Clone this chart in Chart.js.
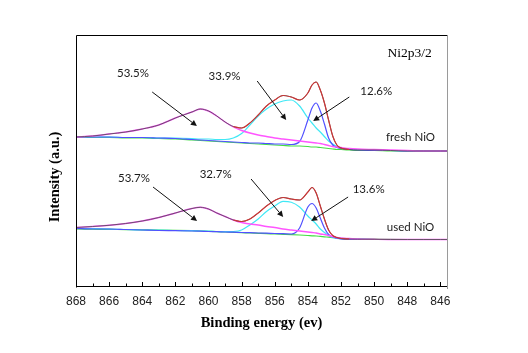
<!DOCTYPE html>
<html>
<head>
<meta charset="utf-8">
<script src="https://cdn.jsdelivr.net/npm/chart.js@4.4.0/dist/chart.umd.min.js"></script>
<style>
  html, body { margin: 0; padding: 0; background: #fff; }
  #wrap { width: 528px; height: 353px; }
</style>
</head>
<body>
<div id="wrap"><canvas id="c"></canvas></div>
<script>
// binding energy grid (eV), shared by every curve
const bindingEnergy = [868, 867, 866, 865, 864, 863, 862, 861, 860.5, 860, 859.5, 859, 858.5, 858, 857.5, 857,
  856.5, 856, 855.5, 855, 854.5, 854, 853.75, 853.5, 853.25, 853, 852.75, 852.5, 852.25, 852, 851.5, 851,
  850, 849, 848, 847, 846, 845.6];

// fresh NiO (upper spectrum), arbitrary intensity
const freshEnvelope = [149, 150, 152, 154, 157, 161, 168, 174, 177, 175, 170, 164, 159.5, 158, 163, 171,
  180, 186, 190.5, 189, 186, 193, 201, 204, 196, 183, 166, 150, 141, 138, 136.5, 136, 136, 135.5, 135, 135, 135, 135];
const freshSatellite = [149, 150, 152, 154, 157, 161, 168, 174, 177, 175, 170, 164, 159, 155.5, 153, 151,
  149.5, 148, 147, 146, 145, 144, 143.5, 143, 142.5, 141.5, 140.5, 139.5, 139, 138.5, 137.5, 137, 136.5, 136, 135.5, 135, 135, 135];
const freshNi3Sat = [149, 149, 149, 148.5, 148.5, 148, 148, 147.5, 147, 147, 146.5, 146.5, 148, 152.5, 161, 170,
  177, 182, 185, 186, 180, 168, 163, 158, 154, 149.5, 145, 142, 139.5, 138, 137, 136.5, 136, 135.5, 135, 135, 135, 135];
const freshNiO = [149, 149, 149, 148.5, 148.5, 148, 147.5, 146.5, 146, 145.5, 145, 144.5, 144, 143.5, 143, 143,
  142.5, 142, 142, 141.5, 144.5, 166, 178, 183, 175, 162, 148, 141, 138.5, 137.5, 136.5, 136, 135.5, 135.5, 135, 135, 135, 135];
const freshBackground = [148.5, 148.5, 148.5, 148, 148, 147.5, 147, 146, 145.5, 145, 144.5, 144, 143.5, 143, 142.5, 142,
  141.5, 141, 140.5, 140, 140, 139.5, 139, 139, 138.5, 138, 137.5, 137, 136.5, 136.5, 136, 135.5, 135.5, 135, 135, 135, 135, 135];

// used NiO (lower spectrum)
const usedEnvelope = [58.5, 59.5, 60.7, 62.5, 65, 68.5, 73, 77.5, 78.7, 77, 73, 69.5, 66, 64.5, 67, 73,
  80, 85.5, 88.5, 87, 86, 94, 98.5, 93, 80, 67, 56, 50.5, 48.5, 47.5, 47, 46.8, 46.7, 46.5, 46.5, 46.5, 46.5, 46.5];
const usedSatellite = [58.5, 59.5, 60.7, 62.5, 65, 68.5, 73, 77.5, 78.7, 77, 73, 69.5, 66, 63.5, 62, 61,
  59.5, 58.5, 57, 56, 55, 54, 53.5, 53, 52, 51.5, 50.5, 49.5, 48.5, 48, 47.5, 47, 46.7, 46.5, 46.5, 46.5, 46.5, 46.5];
const usedNi3Sat = [58, 57.5, 57, 56.5, 56, 56, 55.5, 55.3, 55, 55, 54.5, 54.3, 54.5, 56, 61, 67,
  74.5, 80, 84.7, 83.8, 79, 70, 66, 62, 57, 53.5, 50.5, 48.5, 47.5, 47, 46.8, 46.7, 46.5, 46.5, 46.5, 46.5, 46.5, 46.5];
const usedNiO = [57.5, 57, 57, 56.5, 56, 55.5, 55.3, 55, 54.8, 54.5, 54.3, 54, 53.8, 53.5, 53.3, 53,
  52.8, 52.5, 52.3, 52, 58, 79, 82.5, 78, 68, 58, 51.5, 49, 47.8, 47.2, 46.8, 46.7, 46.5, 46.5, 46.5, 46.5, 46.5, 46.5];
const usedBackground = [57, 56.8, 56.6, 56.4, 56.2, 56, 55.7, 55.3, 55, 54.7, 54.4, 54, 53.7, 53.4, 53, 52.7,
  52.4, 52, 51.7, 51.4, 51, 50.5, 50.2, 50, 49.6, 49.2, 48.8, 48.4, 48, 47.7, 47.2, 47, 46.8, 46.6, 46.5, 46.5, 46.5, 46.5];

const xTicks = [868, 866, 864, 862, 860, 858, 856, 854, 852, 850, 848, 846];

// annotation texts and arrows, in data coordinates
const labels = [
  { text: '53.5%', x: 864.56, y: 213 },
  { text: '33.9%', x: 859.03, y: 210 },
  { text: '12.6%', x: 849.87, y: 195 },
  { text: 'fresh NiO', x: 847.8, y: 149 },
  { text: '53.7%', x: 864.5, y: 108 },
  { text: '32.7%', x: 859.57, y: 112 },
  { text: '13.6%', x: 850.33, y: 97 },
  { text: 'used NiO', x: 847.8, y: 59 }
];
const arrows = [
  [863.4, 194, 860.7, 160],
  [857.06, 205, 855.31, 166],
  [851.5, 189, 853.68, 165],
  [863.35, 99, 860.69, 65],
  [857.43, 107, 855.49, 69],
  [851.57, 89, 853.8, 65]
];

function pts(values, from, to) {
  return bindingEnergy.map((be, i) => ({
    x: be,
    y: (from === undefined || (be <= from && be >= to)) ? values[i] : null
  }));
}

function line(values, color, width, from, to) {
  return {
    data: pts(values, from, to),
    borderColor: color,
    borderWidth: width,
    pointRadius: 0,
    fill: false,
    cubicInterpolationMode: 'monotone',
    spanGaps: false
  };
}

const overlay = {
  id: 'overlay',
  afterDraw(chart) {
    const { ctx, chartArea: a, scales: { x, y } } = chart;
    ctx.save();
    // frame
    ctx.lineWidth = 1;
    ctx.strokeStyle = '#000';
    ctx.beginPath();
    ctx.moveTo(Math.round(a.right) + 0.5, Math.round(a.top) + 0.5);
    ctx.lineTo(Math.round(a.left) + 0.5, Math.round(a.top) + 0.5);
    ctx.lineTo(Math.round(a.left) + 0.5, Math.round(a.bottom) + 1.5);
    ctx.moveTo(Math.round(a.left), Math.round(a.bottom) + 0.5);
    ctx.lineTo(Math.round(a.right) + 1, Math.round(a.bottom) + 0.5);
    ctx.stroke();
    ctx.strokeStyle = '#9a9a9a';
    ctx.beginPath();
    ctx.moveTo(Math.round(a.right) + 0.5, Math.round(a.top) + 0.5);
    ctx.lineTo(Math.round(a.right) + 0.5, Math.round(a.bottom) + 3);
    ctx.stroke();

    // tick marks pointing inward, minor every 1 eV
    ctx.strokeStyle = '#000';
    ctx.beginPath();
    for (let v = 846; v <= 868; v++) {
      const px = Math.round(x.getPixelForValue(v)) + 0.5;
      const len = v % 2 === 0 ? 4 : 2.5;
      ctx.moveTo(px, a.bottom);
      ctx.lineTo(px, a.bottom - len);
    }
    ctx.stroke();

    // arrows
    ctx.strokeStyle = '#111';
    ctx.fillStyle = '#111';
    arrows.forEach(([x1, y1, x2, y2]) => {
      const ax = x.getPixelForValue(x1), ay = y.getPixelForValue(y1);
      const bx = x.getPixelForValue(x2), by = y.getPixelForValue(y2);
      const ang = Math.atan2(by - ay, bx - ax);
      const hl = 6, hw = 3;
      const ex = bx - hl * Math.cos(ang), ey = by - hl * Math.sin(ang);
      ctx.beginPath();
      ctx.moveTo(ax, ay);
      ctx.lineTo(ex, ey);
      ctx.stroke();
      ctx.beginPath();
      ctx.moveTo(bx, by);
      ctx.lineTo(ex + hw * Math.sin(ang), ey - hw * Math.cos(ang));
      ctx.lineTo(ex - hw * Math.sin(ang), ey + hw * Math.cos(ang));
      ctx.closePath();
      ctx.fill();
    });

    // percent and sample labels
    ctx.fillStyle = '#1a1a1a';
    ctx.textAlign = 'center';
    ctx.textBaseline = 'middle';
    ctx.font = '11.5px Lato';
    labels.forEach(l => {
      ctx.fillText(l.text, x.getPixelForValue(l.x), y.getPixelForValue(l.y));
    });

    ctx.font = '13.5px "Liberation Serif"';
    ctx.fillStyle = '#000';
    ctx.fillText('Ni2p3/2', x.getPixelForValue(847.85), y.getPixelForValue(233));

    // axis titles
    ctx.font = 'bold 14.5px "Liberation Serif"';
    ctx.fillText('Binding energy (ev)', (a.left + a.right) / 2, 323);
    ctx.translate(55, 177);
    ctx.rotate(-Math.PI / 2);
    ctx.fillText('Intensity (a.u.)', 0, 0);
    ctx.restore();
  }
};

new Chart(document.getElementById('c'), {
  type: 'line',
  data: {
    datasets: [
      line(freshEnvelope, '#cc3535', 1.2, 858.75, 851.25),
      line(freshEnvelope, 'rgba(80,80,80,0.85)', 1, undefined, undefined),
      line(freshSatellite, '#ff55ff', 1.4),
      line(freshNiO, '#5050ff', 1.2),
      line(freshNi3Sat, '#40e8f5', 1.2),
      line(freshBackground, '#44dd44', 1.2),
      line(usedEnvelope, '#cc3535', 1.2, 858.75, 851.25),
      line(usedEnvelope, 'rgba(80,80,80,0.85)', 1, undefined, undefined),
      line(usedSatellite, '#ff55ff', 1.4),
      line(usedNiO, '#5050ff', 1.2),
      line(usedNi3Sat, '#40e8f5', 1.2),
      line(usedBackground, '#44dd44', 1.2)
    ]
  },
  options: {
    responsive: true,
    maintainAspectRatio: false,
    animation: false,
    events: [],
    layout: { padding: { left: 76, right: 81, top: 35, bottom: 0 } },
    plugins: { legend: { display: false }, tooltip: { enabled: false } },
    scales: {
      x: {
        type: 'linear',
        reverse: true,
        min: 845.6,
        max: 868,
        grid: { display: false, drawTicks: false },
        border: { display: false },
        afterBuildTicks: s => { s.ticks = xTicks.map(v => ({ value: v })); },
        afterFit: s => { s.height = 67; },
        ticks: {
          padding: 8,
          maxRotation: 0,
          minRotation: 0,
          autoSkip: false,
          color: '#222',
          font: { family: '"Liberation Sans"', size: 12 }
        }
      },
      y: {
        display: false,
        min: 0,
        max: 251
      }
    }
  },
  plugins: [overlay]
});
</script>
</body>
</html>
